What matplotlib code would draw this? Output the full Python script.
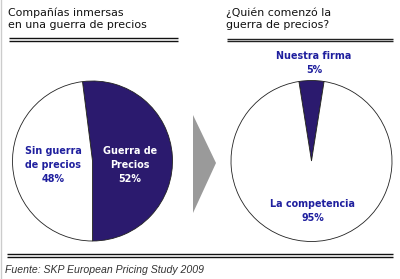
import matplotlib.pyplot as plt
from matplotlib.patches import Polygon

# data
left_labels = ['Guerra de\nPrecios\n52%', 'Sin guerra\nde precios\n48%']
left_values = [52, 48]
right_labels = ['Nuestra firma\n5%', 'La competencia\n95%']
right_values = [5, 95]

navy = '#2b1a6e'
blue = '#1f1f9e'
H = 279

fig = plt.figure(figsize=(4.0, 2.79), dpi=100)
ax = fig.add_axes([0, 0, 1, 1])

def y(v):
    return H - v

# pies
wp = dict(edgecolor='#222222', linewidth=0.6)
ax.pie(left_values, colors=[navy, 'white'], startangle=270, counterclock=True,
       center=(92.5, y(161)), radius=80, wedgeprops=wp, frame=True)
ax.pie(right_values, colors=[navy, 'white'], startangle=81, counterclock=True,
       center=(311.5, y(161)), radius=80.5, wedgeprops=wp, frame=True)
ax.set_xlim(0, 400)
ax.set_ylim(0, H)
ax.set_aspect('equal')
ax.axis('off')

lbl = dict(ha='center', va='center', fontsize=6.9, fontweight='bold',
           family='DejaVu Sans', linespacing=1.5)
ax.text(130, y(165), left_labels[0], color='white', **lbl)
ax.text(53, y(165), left_labels[1], color=blue, **lbl)
ax.text(314, y(63), right_labels[0], color=blue, **lbl)
ax.text(313, y(211), right_labels[1], color=blue, **lbl)

# arrow
ax.add_patch(Polygon([(193, y(115)), (216, y(163)), (193, y(213))],
                     closed=True, color='#9a9a9a', lw=0))

# titles
tt = dict(ha='left', va='center', fontsize=7.9, family='DejaVu Sans',
          color='#111111', linespacing=1.3)
ax.text(8, y(19), 'Compañías inmersas\nen una guerra de precios', **tt)
ax.text(226, y(19), '¿Quién comenzó la\nguerra de precios?', **tt)

# rules
for yy in (38.3, 41):
    ax.plot([9, 178], [y(yy), y(yy)], color='#111111', lw=1.0, solid_capstyle='butt')
for yy in (39, 41):
    ax.plot([227, 393], [y(yy), y(yy)], color='#222222', lw=1.0, solid_capstyle='butt')
for yy in (254, 257):
    ax.plot([7, 393], [y(yy), y(yy)], color='#111111', lw=1.0, solid_capstyle='butt')

# left border
ax.plot([0.5, 0.5], [0, H], color='#cccccc', lw=1)

ax.text(5, y(270), 'Fuente: SKP European Pricing Study 2009', ha='left', va='center',
        fontsize=7.6, style='italic', family='Liberation Sans', color='#333333')

fig.savefig('out.png', dpi=100)
